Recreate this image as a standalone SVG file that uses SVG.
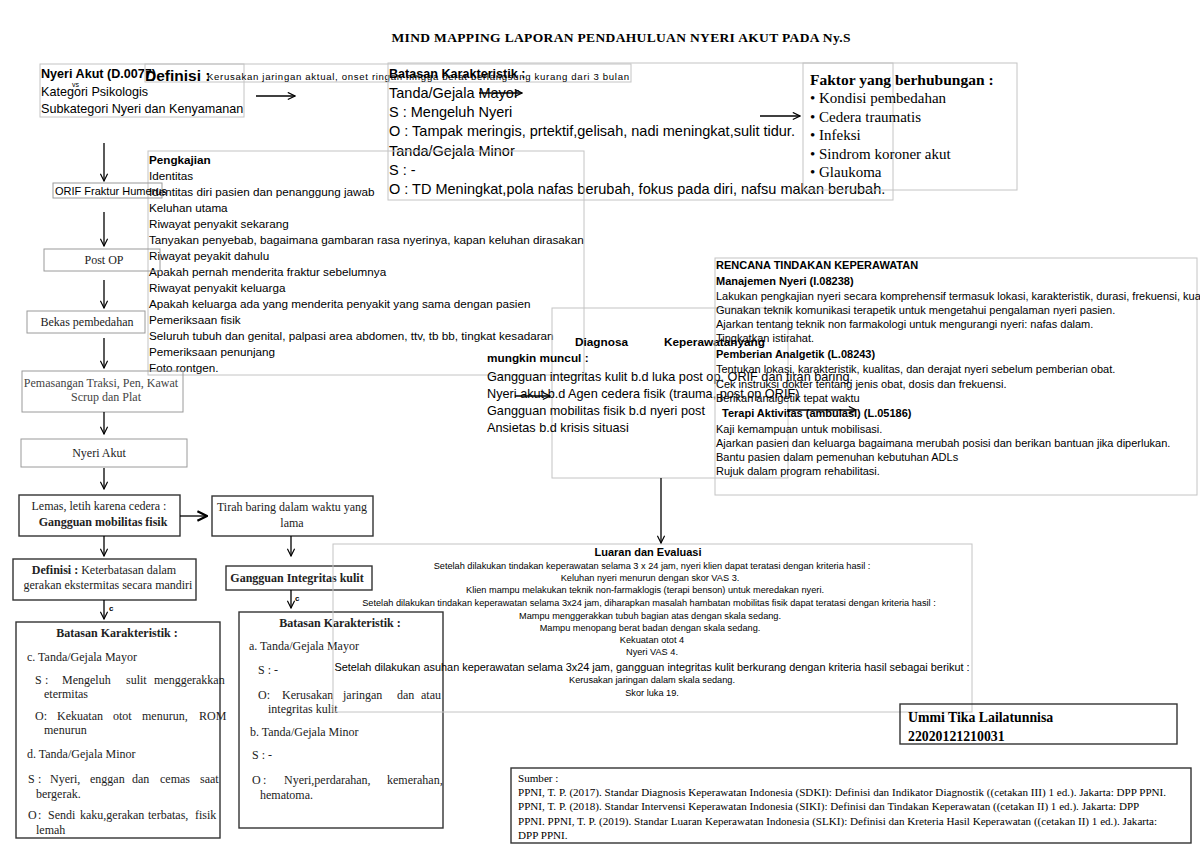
<svg xmlns="http://www.w3.org/2000/svg" width="1200" height="848" viewBox="0 0 1200 848">
<style>
.s{font-family:"Liberation Sans",Arial,sans-serif;fill:#000}
.t{font-family:"Liberation Serif","Times New Roman",serif;fill:#222}
.b{font-weight:bold}
.lb{fill:none;stroke:#c4c4c4;stroke-width:1}
.gb{fill:none;stroke:#9a9a9a;stroke-width:1}
.db{fill:none;stroke:#333;stroke-width:1.4}
.ar{fill:none;stroke:#000;stroke-width:1.3}
.pk{font-size:11.7px}
.bt{font-size:14.5px}
.ft{font-size:15px;fill:#000}
.lt{font-size:12px}
.rc{font-size:11px}
.lu{font-size:9.2px}
.sm{font-size:11.1px;fill:#000}
</style>
<defs>
<marker id="ah" viewBox="0 0 10 10" refX="9" refY="5" markerWidth="9" markerHeight="9" markerUnits="userSpaceOnUse" orient="auto"><path d="M1,1 L9,5 L1,9" fill="none" stroke="#000" stroke-width="1.3"/></marker>
<marker id="ah2" viewBox="0 0 10 10" refX="9" refY="5" markerWidth="12" markerHeight="12" markerUnits="userSpaceOnUse" orient="auto"><path d="M1,1 L9,5 L1,9" fill="none" stroke="#000" stroke-width="1.8"/></marker>
</defs>
<rect width="1200" height="848" fill="#fff"/>

<text class="t b" x="621" y="42" text-anchor="middle" font-size="13.5" textLength="459" style="fill:#000">MIND MAPPING LAPORAN PENDAHULUAN NYERI AKUT PADA Ny.S</text>

<g id="n-nyeri-akut">
<rect class="lb" x="40" y="64" width="204" height="53"/>
<text class="s b" x="41" y="78" font-size="12.6">Nyeri Akut (D.0077)</text>
<text class="s" x="72" y="87" font-size="7">vs</text>
<text class="s" x="41" y="96" font-size="12.6">Kategori Psikologis</text>
<text class="s" x="41" y="113" font-size="12.6">Subkategori Nyeri dan Kenyamanan</text>
</g>

<g id="n-definisi">
<rect class="lb" x="145" y="64" width="486" height="18"/>
<text class="s b" x="145" y="81" font-size="15.5">Definisi :</text>
<text class="s" x="207" y="80" font-size="9.6" textLength="422">Kerusakan jaringan aktual, onset ringan hingga berat berlangsung kurang dari 3 bulan</text>
</g>

<g id="n-batasan-atas">
<rect class="lb" x="388" y="63" width="505" height="137"/>
<text class="s b" x="389" y="78" font-size="12.6">Batasan Karakteristik :</text>
<text class="s bt" x="389" y="98">Tanda/Gejala Mayor</text>
<text class="s bt" x="389" y="117">S : Mengeluh Nyeri</text>
<text class="s bt" x="389" y="136">O : Tampak meringis, prtektif,gelisah, nadi meningkat,sulit tidur.</text>
<text class="s bt" x="389" y="156">Tanda/Gejala Minor</text>
<text class="s bt" x="389" y="175">S : -</text>
<text class="s bt" x="389" y="194">O : TD Meningkat,pola nafas berubah, fokus pada diri, nafsu makan berubah.</text>
</g>

<g id="n-faktor">
<rect class="lb" x="803" y="63" width="214" height="127"/>
<text class="t b" x="810" y="85" font-size="15.5" style="fill:#000">Faktor yang berhubungan :</text>
<text class="t ft" x="810" y="103">• Kondisi pembedahan</text>
<text class="t ft" x="810" y="122">• Cedera traumatis</text>
<text class="t ft" x="810" y="140">• Infeksi</text>
<text class="t ft" x="810" y="159">• Sindrom koroner akut</text>
<text class="t ft" x="810" y="177">• Glaukoma</text>
</g>

<g id="n-pengkajian">
<rect class="lb" x="148" y="151" width="436" height="224"/>
<text class="s pk b" x="149" y="164">Pengkajian</text>
<text class="s pk" x="149" y="180">Identitas</text>
<text class="s pk" x="149" y="196">Identitas diri pasien dan penanggung jawab</text>
<text class="s pk" x="149" y="212">Keluhan utama</text>
<text class="s pk" x="149" y="228">Riwayat penyakit sekarang</text>
<text class="s pk" x="149" y="244">Tanyakan penyebab, bagaimana gambaran rasa nyerinya, kapan keluhan dirasakan</text>
<text class="s pk" x="149" y="260">Riwayat peyakit dahulu</text>
<text class="s pk" x="149" y="276">Apakah pernah menderita fraktur sebelumnya</text>
<text class="s pk" x="149" y="292">Riwayat penyakit keluarga</text>
<text class="s pk" x="149" y="308">Apakah keluarga ada yang menderita penyakit yang sama dengan pasien</text>
<text class="s pk" x="149" y="324">Pemeriksaan fisik</text>
<text class="s pk" x="149" y="340">Seluruh tubuh dan genital, palpasi area abdomen, ttv, tb bb, tingkat kesadaran</text>
<text class="s pk" x="149" y="356">Pemeriksaan penunjang</text>
<text class="s pk" x="149" y="372">Foto rontgen.</text>
</g>

<g id="n-orif">
<rect class="gb" x="53" y="183" width="109" height="15"/>
<text class="s" x="55" y="195" font-size="11">ORIF Fraktur Humerus</text>
</g>

<g id="n-postop">
<rect class="gb" x="44" y="249" width="116" height="22"/>
<text class="t lt" x="104" y="264" text-anchor="middle">Post OP</text>
</g>

<g id="n-bekas">
<rect class="gb" x="27" y="311" width="118" height="22"/>
<text class="t lt" x="87" y="326" text-anchor="middle">Bekas pembedahan</text>
</g>

<g id="n-pemasangan">
<rect class="gb" x="22" y="371" width="161" height="41"/>
<text class="t lt" x="101" y="387" text-anchor="middle" style="fill:#444">Pemasangan Traksi, Pen, Kawat</text>
<text class="t lt" x="106" y="401" text-anchor="middle" style="fill:#444">Scrup dan Plat</text>
</g>

<g id="n-nyeri-akut-2">
<rect class="gb" x="21" y="439" width="166" height="28"/>
<text class="t lt" x="99" y="457" text-anchor="middle">Nyeri Akut</text>
</g>

<g id="n-lemas">
<rect class="db" x="19" y="495" width="161" height="41"/>
<text class="t lt" x="99" y="510" text-anchor="middle">Lemas, letih karena cedera :</text>
<text class="t lt b" x="103" y="526" text-anchor="middle">Gangguan mobilitas fisik</text>
</g>

<g id="n-tirah">
<rect class="db" x="212" y="496" width="161" height="40"/>
<text class="t lt" x="292" y="511" text-anchor="middle">Tirah baring dalam waktu yang</text>
<text class="t lt" x="292" y="527" text-anchor="middle">lama</text>
</g>

<g id="n-definisi-mobilitas">
<rect class="db" x="13" y="559" width="183" height="41"/>
<text class="t lt" x="104" y="574" text-anchor="middle"><tspan class="b">Definisi : </tspan>Keterbatasan dalam</text>
<text class="t lt" x="108" y="589" text-anchor="middle">gerakan ekstermitas secara mandiri</text>
</g>

<g id="n-integritas">
<rect class="db" x="226" y="566" width="146" height="24"/>
<text class="t lt b" x="297" y="582" text-anchor="middle">Gangguan Integritas kulit</text>
</g>

<g id="n-batasan-mobilitas">
<rect class="db" x="16" y="622" width="204" height="216"/>
<text class="t lt b" x="117" y="637" text-anchor="middle">Batasan Karakteristik :</text>
<text class="t lt" x="27" y="661">c. Tanda/Gejala Mayor</text>
<text class="t lt" y="684"><tspan x="35">S</tspan><tspan x="45">:</tspan><tspan x="62">Mengeluh</tspan><tspan x="126">sulit</tspan><tspan x="154">menggerakkan</tspan></text>
<text class="t lt" x="44" y="698">etermitas</text>
<text class="t lt" y="720"><tspan x="35">O:</tspan><tspan x="57">Kekuatan</tspan><tspan x="113">otot</tspan><tspan x="142">menurun,</tspan><tspan x="199">ROM</tspan></text>
<text class="t lt" x="44" y="734">menurun</text>
<text class="t lt" x="27" y="758">d.  Tanda/Gejala Minor</text>
<text class="t lt" y="783"><tspan x="28">S</tspan><tspan x="38">:</tspan><tspan x="50">Nyeri,</tspan><tspan x="90">enggan</tspan><tspan x="132">dan</tspan><tspan x="160">cemas</tspan><tspan x="200">saat</tspan></text>
<text class="t lt" x="36" y="798">bergerak.</text>
<text class="t lt" y="819"><tspan x="28">O</tspan><tspan x="38">:</tspan><tspan x="48">Sendi</tspan><tspan x="80">kaku,gerakan</tspan><tspan x="148">terbatas,</tspan><tspan x="195">fisik</tspan></text>
<text class="t lt" x="36" y="834">lemah</text>
</g>

<g id="n-batasan-integritas">
<rect class="db" x="239" y="612" width="204" height="216"/>
<text class="t lt b" x="340" y="627" text-anchor="middle">Batasan Karakteristik :</text>
<text class="t lt" x="249" y="650">a. Tanda/Gejala Mayor</text>
<text class="t lt" x="258" y="674">S : -</text>
<text class="t lt" y="699"><tspan x="258">O:</tspan><tspan x="282">Kerusakan</tspan><tspan x="343">jaringan</tspan><tspan x="397">dan</tspan><tspan x="421">atau</tspan></text>
<text class="t lt" x="268" y="713">integritas kulit</text>
<text class="t lt" x="250" y="736">b.  Tanda/Gejala Minor</text>
<text class="t lt" x="252" y="759">S : -</text>
<text class="t lt" y="784"><tspan x="252">O</tspan><tspan x="263">:</tspan><tspan x="284">Nyeri,perdarahan,</tspan><tspan x="387">kemerahan,</tspan></text>
<text class="t lt" x="260" y="799">hematoma.</text>
</g>

<g id="n-diagnosa">
<rect class="lb" x="552" y="308" width="236" height="170"/>
<text class="s b" x="575" y="346" font-size="11.8">Diagnosa</text>
<text class="s b" x="664" y="346" font-size="11.8">Keperawatanyang</text>
<text class="s b" x="487" y="362" font-size="11.8">mungkin muncul :</text>
<text class="s" x="487" y="381" font-size="12.7">Gangguan integritas kulit b.d luka post op. ORIF dan tiran baring.</text>
<text class="s" x="487" y="398" font-size="12.7">Nyeri akut b.d Agen cedera fisik (trauma, post op ORIF)</text>
<text class="s" x="487" y="415" font-size="12.7">Gangguan mobilitas fisik b.d nyeri post</text>
<text class="s" x="487" y="432" font-size="12.7">Ansietas b.d krisis situasi</text>
</g>

<g id="n-rencana">
<rect class="lb" x="715" y="258" width="482" height="237"/>
<text class="s rc b" x="716" y="269">RENCANA TINDAKAN KEPERAWATAN</text>
<text class="s rc b" x="716" y="285">Manajemen Nyeri (I.08238)</text>
<text class="s rc" x="716" y="300">Lakukan pengkajian nyeri secara komprehensif termasuk lokasi, karakteristik, durasi, frekuensi, kual</text>
<text class="s rc" x="716" y="314">Gunakan teknik komunikasi terapetik untuk mengetahui pengalaman nyeri pasien.</text>
<text class="s rc" x="716" y="328">Ajarkan tentang teknik non farmakologi untuk mengurangi nyeri: nafas dalam.</text>
<text class="s rc" x="716" y="342">Tingkatkan istirahat.</text>
<text class="s rc b" x="716" y="358">Pemberian Analgetik (L.08243)</text>
<text class="s rc" x="716" y="373">Tentukan lokasi, karakteristik, kualitas, dan derajat nyeri sebelum pemberian obat.</text>
<text class="s rc" x="716" y="388">Cek instruksi dokter tentang jenis obat, dosis dan frekuensi.</text>
<text class="s rc" x="716" y="402">Berikan analgetik tepat waktu</text>
<text class="s rc b" x="722" y="417">Terapi Aktivitas (ambulasi) (L.05186)</text>
<text class="s rc" x="716" y="433">Kaji kemampuan untuk mobilisasi.</text>
<text class="s rc" x="716" y="447">Ajarkan pasien dan keluarga bagaimana merubah posisi dan berikan bantuan jika diperlukan.</text>
<text class="s rc" x="716" y="461">Bantu pasien dalam pemenuhan kebutuhan ADLs</text>
<text class="s rc" x="716" y="475">Rujuk dalam program rehabilitasi.</text>
</g>

<g id="n-luaran">
<rect class="lb" x="333" y="544" width="639" height="168"/>
<text class="s b" x="648" y="556" text-anchor="middle" font-size="11">Luaran dan Evaluasi</text>
<text class="s lu" x="652" y="569" text-anchor="middle">Setelah dilakukan tindakan keperawatan selama 3 x 24 jam, nyeri klien dapat teratasi dengan kriteria hasil :</text>
<text class="s lu" x="650" y="581" text-anchor="middle">Keluhan nyeri menurun dengan skor VAS 3.</text>
<text class="s lu" x="645" y="593" text-anchor="middle">Klien mampu melakukan teknik non-farmaklogis (terapi benson) untuk meredakan nyeri.</text>
<text class="s lu" x="649" y="606" text-anchor="middle">Setelah dilakukan tindakan keperawatan selama 3x24 jam, diharapkan masalah hambatan mobilitas fisik dapat teratasi dengan kriteria hasil :</text>
<text class="s lu" x="650" y="619" text-anchor="middle">Mampu menggerakkan tubuh bagian atas dengan skala sedang.</text>
<text class="s lu" x="650" y="631" text-anchor="middle">Mampu menopang berat badan dengan skala sedang.</text>
<text class="s lu" x="652" y="643" text-anchor="middle">Kekuatan otot 4</text>
<text class="s lu" x="652" y="655" text-anchor="middle">Nyeri VAS 4.</text>
<text class="s" x="652" y="671" text-anchor="middle" font-size="10.9">Setelah dilakukan asuhan keperawatan selama 3x24 jam, gangguan integritas kulit berkurang dengan kriteria hasil sebagai berikut :</text>
<text class="s lu" x="652" y="683" text-anchor="middle">Kerusakan jaringan dalam skala sedang.</text>
<text class="s lu" x="652" y="696" text-anchor="middle">Skor luka 19.</text>
</g>

<g id="n-penulis">
<rect class="db" x="900" y="704" width="277" height="40"/>
<text class="t b" x="908" y="722" font-size="13.8" style="fill:#000">Ummi Tika Lailatunnisa</text>
<text class="t b" x="908" y="741" font-size="13.8" style="fill:#000">22020121210031</text>
</g>

<g id="n-sumber">
<rect class="db" x="511" y="768" width="680" height="75"/>
<text class="t sm" x="518" y="782">Sumber :</text>
<text class="t sm" x="518" y="796">PPNI, T. P. (2017). Standar Diagnosis Keperawatan Indonesia (SDKI): Definisi dan Indikator Diagnostik ((cetakan III) 1 ed.). Jakarta: DPP PPNI.</text>
<text class="t sm" x="518" y="810">PPNI, T. P. (2018). Standar Intervensi Keperawatan Indonesia (SIKI): Definisi dan Tindakan Keperawatan ((cetakan II) 1 ed.). Jakarta: DPP</text>
<text class="t sm" x="518" y="825">PPNI. PPNI, T. P. (2019). Standar Luaran Keperawatan Indonesia (SLKI): Definisi dan Kreteria Hasil Keperawatan ((cetakan II) 1 ed.). Jakarta:</text>
<text class="t sm" x="518" y="839">DPP PPNI.</text>
</g>

<g id="connectors">
<line class="ar" x1="256" y1="96" x2="295" y2="96" marker-end="url(#ah)"/>
<line class="ar" x1="479" y1="93" x2="522" y2="93" marker-end="url(#ah)"/>
<line class="ar" x1="760" y1="116" x2="800" y2="116" marker-end="url(#ah)"/>
<line class="ar" x1="104" y1="143" x2="104" y2="181" marker-end="url(#ah)"/>
<line class="ar" x1="104" y1="212" x2="104" y2="246" marker-end="url(#ah)"/>
<line class="ar" x1="104" y1="280" x2="104" y2="308" marker-end="url(#ah)"/>
<line class="ar" x1="104" y1="338" x2="104" y2="368" marker-end="url(#ah)"/>
<line class="ar" x1="104" y1="412" x2="104" y2="434" marker-end="url(#ah)"/>
<line class="ar" x1="104" y1="468" x2="104" y2="489" marker-end="url(#ah)"/>
<line class="ar" x1="180" y1="516" x2="207" y2="516" stroke-width="1.8" marker-end="url(#ah2)"/>
<line class="ar" x1="104" y1="536" x2="104" y2="556" marker-end="url(#ah)"/>
<line class="ar" x1="291" y1="536" x2="291" y2="556" marker-end="url(#ah)"/>
<line class="ar" x1="104" y1="600" x2="104" y2="619" marker-end="url(#ah)"/>
<text class="s b" x="109" y="611" font-size="8">c</text>
<line class="ar" x1="291" y1="590" x2="291" y2="608" marker-end="url(#ah)"/>
<text class="s b" x="295" y="601" font-size="8">c</text>
<line class="ar" x1="515" y1="396" x2="550" y2="396" marker-end="url(#ah)"/>
<line class="ar" x1="787" y1="410" x2="856" y2="410" marker-end="url(#ah)"/>
<line class="ar" x1="661" y1="478" x2="661" y2="543" marker-end="url(#ah)"/>
</g>
</svg>
